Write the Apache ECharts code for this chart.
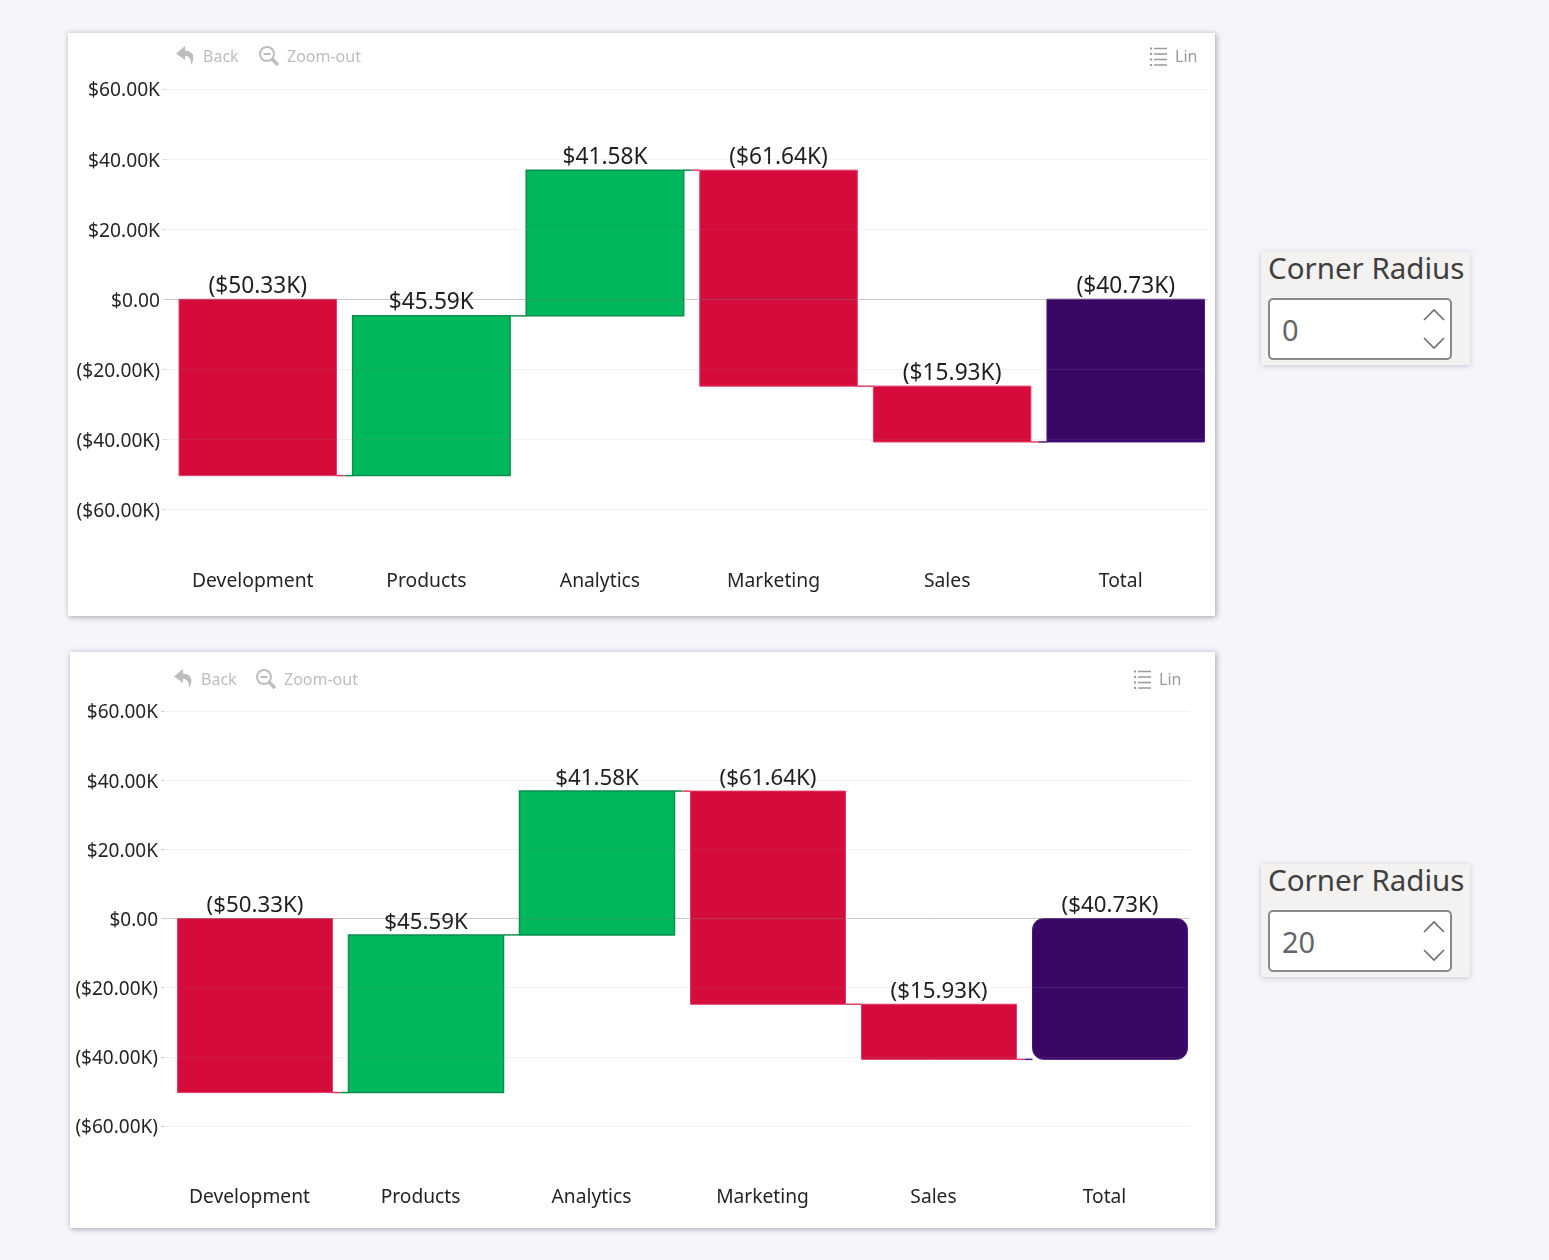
<!DOCTYPE html>
<html>
<head>
<meta charset="utf-8">
<title>Waterfall corner radius</title>
<script src="https://cdn.jsdelivr.net/npm/echarts@6/dist/echarts.min.js"></script>
<style>
html, body { margin: 0; padding: 0; width: 1549px; height: 1260px; background: #f4f6fb; overflow: hidden; font-family: "Noto Sans", sans-serif; }
.card { position: absolute; background: #fff; box-shadow: 1px 1px 6px rgba(0,0,0,.35); }
.chart { position: absolute; left: 0; top: 0; width: 100%; height: 100%; }
.tool { position: absolute; font-size: 16px; line-height: 20px; color: #bdbdbd; white-space: nowrap; }
.tool.dark { color: #9a9a9a; }
.tool-icon { position: absolute; }
.slicer { position: absolute; left: 1261px; width: 209px; height: 113px; background: #f3f2f1; box-shadow: 0 1px 6px rgba(0,0,0,.18); }
.slicer .title { position: absolute; left: 7px; top: -4px; font-size: 29.5px; line-height: 40px; color: #3f3f3f; white-space: nowrap; }
.slicer .box { position: absolute; left: 7px; top: 46px; width: 180px; height: 58px; background: #fff; border: 2.5px solid #8a8a8a; border-radius: 5px; }
.slicer .num { position: absolute; left: 12px; top: 10px; font-size: 29px; line-height: 40px; color: #666; }
.slicer svg { position: absolute; left: 152px; top: 6px; }
</style>
</head>
<body>
<div id="page"></div>
<script>
var categories = ['Development', 'Products', 'Analytics', 'Marketing', 'Sales', 'Total'];
var amounts = [-50.33, 45.59, 41.58, -61.64, -15.93, -40.73];
var yTicks = [-60, -40, -20, 0, 20, 40, 60];
var radiusValues = [0, 20];

var UP = '#00b85c', UP_LINE = '#0b8f4f';
var DOWN = '#d50b3c', DOWN_LINE = '#e23a64';
var TOTAL = '#3b0764', TOTAL_LINE = '#4a1a80';
var FONT = '"Noto Sans", sans-serif';

// running start/end of every step, the last one is the total and starts from zero
var steps = [];
var running = 0;
for (var i = 0; i < amounts.length; i++) {
    if (i == amounts.length - 1) {
        steps.push([i, 0, amounts[i], amounts[i]]);
    } else {
        steps.push([i, running, running + amounts[i], amounts[i]]);
        running += amounts[i];
    }
}

function money(v) {
    if (v == 0) return '$0.00';
    var s = '$' + Math.abs(v).toFixed(2) + 'K';
    return v < 0 ? '(' + s + ')' : s;
}
function fillOf(idx) {
    if (idx == steps.length - 1) return TOTAL;
    return steps[idx][3] < 0 ? DOWN : UP;
}
function lineOf(idx) {
    if (idx == steps.length - 1) return TOTAL_LINE;
    return steps[idx][3] < 0 ? DOWN_LINE : UP_LINE;
}

function addCard(cfg) {
    var card = document.createElement('div');
    card.className = 'card';
    card.style.cssText = 'left:' + cfg.left + 'px;top:' + cfg.top + 'px;width:' + cfg.width + 'px;height:' + cfg.height + 'px';
    var el = document.createElement('div');
    el.className = 'chart';
    card.appendChild(el);

    function tool(text, x, dark) {
        var t = document.createElement('div');
        t.className = 'tool' + (dark ? ' dark' : '');
        t.textContent = text;
        t.style.left = (x - cfg.left) + 'px';
        t.style.top = (cfg.toolY - cfg.top - 10) + 'px';
        card.appendChild(t);
    }
    function icon(svg, x) {
        var s = document.createElement('div');
        s.className = 'tool-icon';
        s.style.left = (x - cfg.left) + 'px';
        s.style.top = (cfg.toolY - cfg.top - 11) + 'px';
        s.innerHTML = svg;
        card.appendChild(s);
    }
    icon('<svg width="20" height="22"><path d="M9 1 L0 8.5 L9 15 V11 C13 11 15 13 15 20 C19.5 13 18 6 9 5.5 Z" fill="#bdbdbd"/></svg>', cfg.backX);
    tool('Back', cfg.backX + 27);
    icon('<svg width="22" height="22"><circle cx="9" cy="9" r="7" fill="none" stroke="#bdbdbd" stroke-width="2"/><path d="M5.5 9 H12.5" stroke="#bdbdbd" stroke-width="2"/><path d="M14 14 L20 20" stroke="#bdbdbd" stroke-width="3.4"/></svg>', cfg.zoomX);
    tool('Zoom-out', cfg.zoomX + 29);
    icon('<svg width="20" height="22"><g stroke="#9a9a9a" stroke-width="1.4"><path d="M5 3.5 H18 M5 9 H18 M5 14.5 H18 M5 20 H18"/><path d="M1 3.5 H3 M1 9 H3 M1 14.5 H3 M1 20 H3" stroke-width="2"/></g></svg>', cfg.listX);
    tool('Lin', cfg.listX + 26, true);

    document.getElementById('page').appendChild(card);

    var chart = echarts.init(el);
    var barW = cfg.barWidth, shift = cfg.barShift;

    function barItem(params, api) {
        var idx = api.value(0);
        var c = api.coord([idx, api.value(1)]);
        var e = api.coord([idx, api.value(2)]);
        var left = c[0] + shift - barW / 2;
        var top = Math.min(c[1], e[1]);
        var h = Math.abs(e[1] - c[1]);
        var isTotal = idx == steps.length - 1;
        var kids = [{
            type: 'rect',
            shape: { x: left, y: top, width: barW, height: h, r: isTotal ? cfg.totalRadius : 0 },
            style: { fill: fillOf(idx), stroke: lineOf(idx), lineWidth: fillOf(idx) == UP ? 1.5 : 1 }
        }];
        if (idx < steps.length - 1) {
            // connector in the gap, half in each bar's colour
            var nx = api.coord([idx + 1, api.value(2)])[0] + shift - barW / 2;
            var mid = (left + barW + nx) / 2;
            kids.push({ type: 'line', shape: { x1: left + barW, y1: e[1], x2: mid, y2: e[1] }, style: { stroke: lineOf(idx), lineWidth: 1.5 } });
            kids.push({ type: 'line', shape: { x1: mid, y1: e[1], x2: nx, y2: e[1] }, style: { stroke: lineOf(idx + 1), lineWidth: 1.5 } });
        }
        return { type: 'group', children: kids };
    }
    function labelItem(params, api) {
        var idx = api.value(0);
        var top = Math.max(api.value(1), api.value(2));
        var p = api.coord([idx, top]);
        return {
            type: 'text',
            x: p[0] + shift,
            y: p[1] + cfg.labelDy,
            style: { text: money(api.value(3)), fill: '#1f1f1f', font: cfg.labelSize + 'px ' + FONT, textAlign: 'center', textVerticalAlign: 'bottom' }
        };
    }

    chart.setOption({
        animation: false,
        grid: { left: cfg.gridLeft, top: cfg.gridTop, width: cfg.gridWidth, height: cfg.gridHeight },
        xAxis: {
            type: 'category',
            data: categories,
            axisLine: { show: false, onZero: false },
            axisTick: { show: false },
            axisLabel: { color: '#252525', fontFamily: FONT, fontSize: cfg.xSize, margin: cfg.xMargin }
        },
        yAxis: {
            type: 'value',
            min: -60,
            max: 60,
            interval: 20,
            z: 3,
            axisLine: { show: false },
            axisTick: { show: true, length: 3, lineStyle: { color: '#cfcfcf' } },
            axisLabel: {
                margin: 6,
                formatter: function (v) { return '{t|' + money(v) + '}'; },
                // the top padding pushes the text a little under its tick
                rich: { t: { color: '#252525', fontFamily: FONT, fontSize: cfg.ySize, padding: [4, 0, 0, 0] } }
            },
            splitLine: {
                show: true,
                lineStyle: {
                    color: yTicks.map(function (t) { return t == 0 ? 'rgba(120,120,120,0.4)' : 'rgba(150,150,150,0.13)'; }),
                    width: 1
                }
            }
        },
        series: [
            { type: 'custom', z: 2, renderItem: barItem, encode: { x: 0, y: [1, 2] }, data: steps, clip: false },
            { type: 'custom', z: 4, renderItem: labelItem, encode: { x: 0, y: [1, 2] }, data: steps, silent: true, clip: false }
        ]
    });
}

addCard({
    left: 68, top: 33, width: 1147, height: 583,
    gridLeft: 98, gridTop: 56, gridWidth: 1041.5, gridHeight: 420.5,
    barWidth: 157.5, barShift: 5, xMargin: 62.5, xSize: 19.3, ySize: 19.2, labelSize: 22.7, labelDy: -1.5,
    totalRadius: 0, toolY: 56, backX: 176, zoomX: 258, listX: 1149
});
addCard({
    left: 70, top: 652, width: 1145, height: 576,
    gridLeft: 94, gridTop: 59, gridWidth: 1026, gridHeight: 415,
    barWidth: 155, barShift: 5.5, xMargin: 62, xSize: 19.2, ySize: 19, labelSize: 22.3, labelDy: -1.5,
    totalRadius: 11, toolY: 679, backX: 174, zoomX: 255, listX: 1133
});

// corner radius slicers next to the charts
var slicerTops = [252, 864];
radiusValues.forEach(function (v, i) {
    var s = document.createElement('div');
    s.className = 'slicer';
    s.style.top = slicerTops[i] + 'px';
    s.innerHTML = '<div class="title">Corner Radius</div><div class="box"><div class="num">' + v + '</div>' +
        '<svg width="24" height="50"><path d="M2 14 L12 4 L22 14 M2 32 L12 42 L22 32" fill="none" stroke="#6e6e6e" stroke-width="1.6"/></svg></div>';
    document.getElementById('page').appendChild(s);
});
</script>
</body>
</html>
